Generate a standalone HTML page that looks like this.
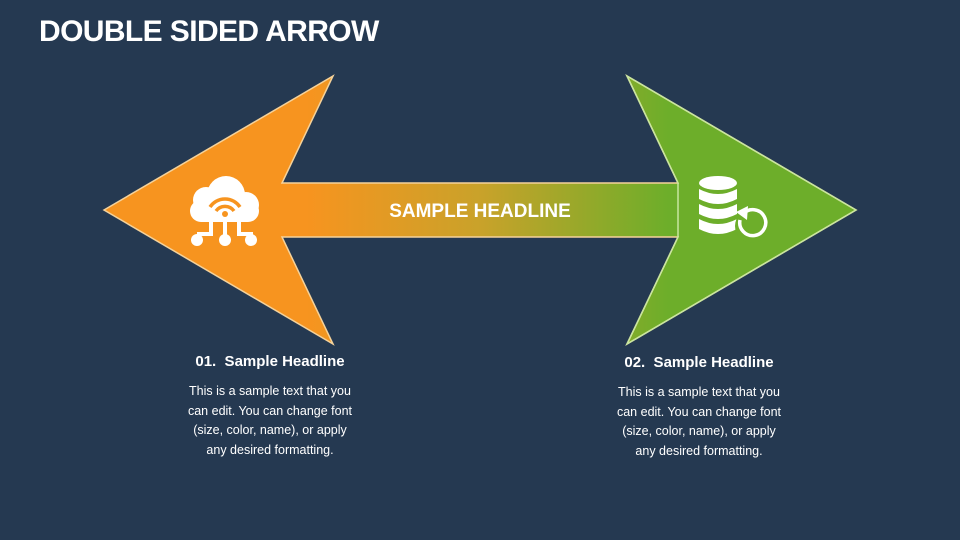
<!DOCTYPE html>
<html><head><meta charset="utf-8"><style>
body{margin:0;width:960px;height:540px;background:#253951;overflow:hidden;font-family:"Liberation Sans",sans-serif;position:relative}
h1{position:absolute;left:39px;top:15px;margin:0;color:#fff;font-size:30px;font-weight:bold;letter-spacing:-0.6px}
.t{position:absolute;color:#fff;text-align:center;width:260px}
.t b{display:block;font-size:15px;margin-bottom:12px}
.t p{margin:0;font-size:12.5px;line-height:19.5px}
</style></head><body>
<h1>DOUBLE SIDED ARROW</h1>
<svg width="960" height="540" style="position:absolute;left:0;top:0">
<defs><linearGradient id="g" x1="104" x2="856" y1="0" y2="0" gradientUnits="userSpaceOnUse">
<stop offset="0" stop-color="#F7941F"/><stop offset="0.27" stop-color="#F7941F"/>
<stop offset="0.5" stop-color="#C9A22A"/><stop offset="0.75" stop-color="#6DAE2A"/><stop offset="1" stop-color="#6DAE2A"/></linearGradient></defs>
<polygon points="104,210 333,76 282,183 678,183 627,76 856,210 627,344 678,237 282,237 333,344" fill="url(#g)" stroke="#f5d29a" stroke-width="1.5" stroke-linejoin="miter"/>
<polygon points="627,76 856,210 627,344 678,237 678,183" fill="none" stroke="#c8e6a0" stroke-width="1.5"/>
<g fill="#fff">
<circle cx="226" cy="195" r="19"/><circle cx="206" cy="200" r="13"/><circle cx="246" cy="205" r="13"/>
<rect x="190" y="200" width="69" height="22" rx="11"/>
<circle cx="197" cy="240" r="6"/><circle cx="225" cy="240" r="6"/><circle cx="251" cy="240" r="6"/>
<rect x="223" y="215" width="4" height="25"/>
<path d="M209 215v17h-12v8h4v-4h12v-21z"/><path d="M237 215v21h12v4h4v-8h-12v-17z"/>
</g>
<g fill="none" stroke="#F7941F" stroke-width="3.5">
<path d="M210 207a18 18 0 0 1 30 0"/><path d="M216 211a11 11 0 0 1 18 0"/></g>
<circle cx="225" cy="214" r="3" fill="#F7941F"/>
<g fill="#fff">
<ellipse cx="718" cy="183" rx="19" ry="7"/>
<path d="M699 189q19 10 38 0v10q-19 10-38 0z"/>
<path d="M699 204q19 10 38 0v10q-19 10-38 0z"/>
<path d="M699 219q19 10 38 0v10q-19 10-38 0z"/>
</g>
<circle cx="752" cy="226" r="17" fill="#6DAE2A"/>
<path d="M743 214a13 13 0 1 1 -3 6" fill="none" stroke="#fff" stroke-width="3.5"/>
<polygon points="736,212 748,206 747,220" fill="#fff"/>
<text x="480" y="217" fill="#fff" font-family="Liberation Sans,sans-serif" font-weight="bold" font-size="19" text-anchor="middle">SAMPLE HEADLINE</text>
</svg>
<div class="t" style="left:140px;top:353px"><b>01.&nbsp; Sample Headline</b><p>This is a sample text that you<br>can edit. You can change font<br>(size, color, name), or apply<br>any desired formatting.</p></div>
<div class="t" style="left:569px;top:354px"><b>02.&nbsp; Sample Headline</b><p>This is a sample text that you<br>can edit. You can change font<br>(size, color, name), or apply<br>any desired formatting.</p></div>
</body></html>
